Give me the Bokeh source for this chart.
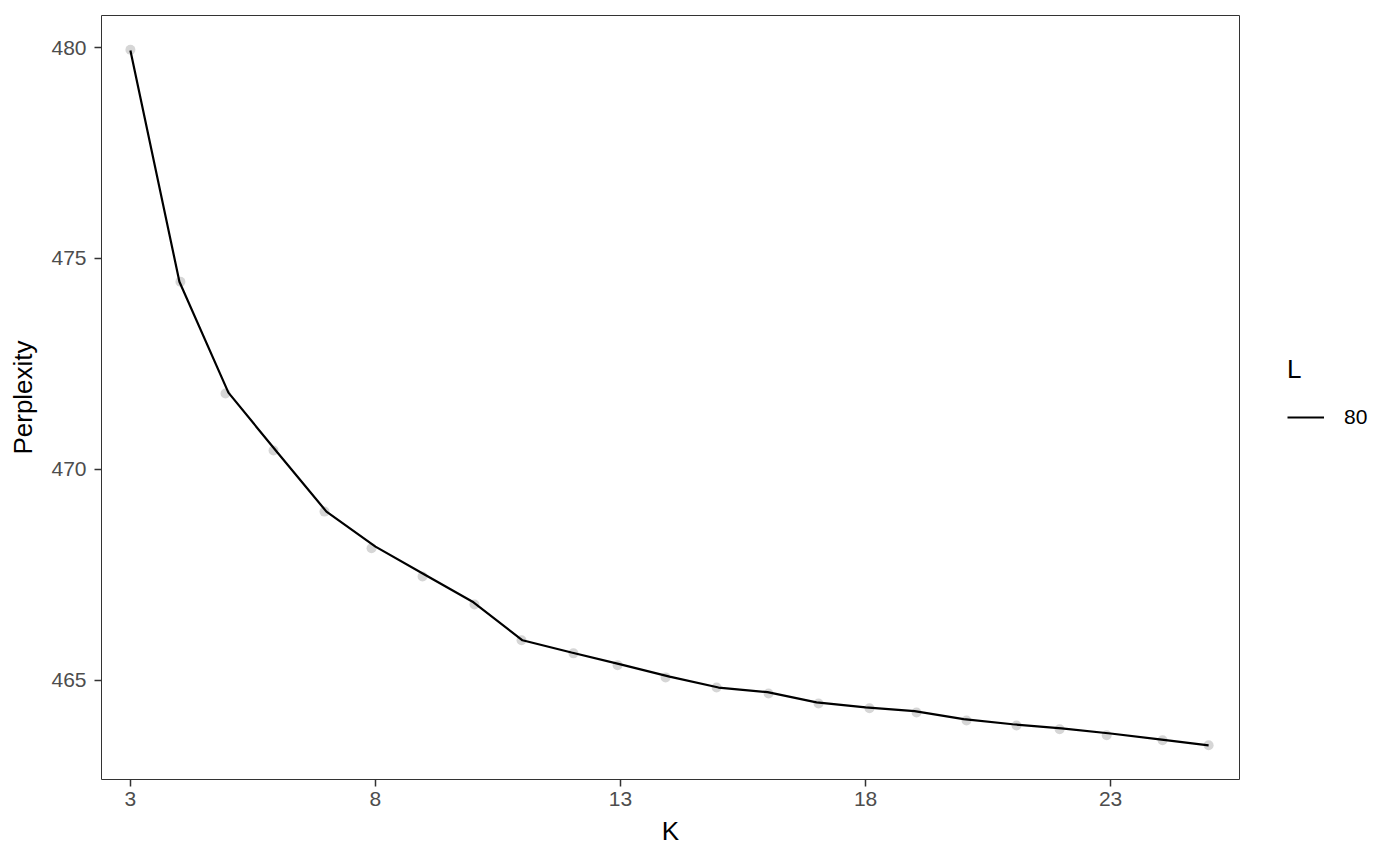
from bokeh.plotting import figure
from bokeh.models import Legend, LegendItem, Range1d, FixedTicker
from bokeh.embed import file_html
from bokeh.resources import INLINE

# Data
K = [3, 4, 5, 6, 7, 8, 9, 10, 11, 12, 13, 14, 15, 16, 17, 18, 19, 20, 21, 22, 23, 24, 25]
perplexity_line = [479.93, 474.45, 471.82, 470.40, 469.00, 468.17, 467.51, 466.85, 465.95,
                   465.66, 465.38, 465.09, 464.83, 464.72, 464.48, 464.36, 464.27, 464.08,
                   463.96, 463.86, 463.74, 463.60, 463.46]
K_jitter = [3.0, 4.02, 4.94, 5.92, 6.96, 7.92, 8.96, 10.02, 10.98, 12.04, 12.94, 13.92,
            14.96, 16.02, 17.04, 18.08, 19.04, 20.06, 21.08, 21.96, 22.92, 24.06, 25.0]
perplexity_points = [479.95, 474.45, 471.80, 470.45, 469.00, 468.13, 467.46, 466.80, 465.95,
                     465.64, 465.36, 465.07, 464.83, 464.69, 464.45, 464.34, 464.24, 464.05,
                     463.93, 463.84, 463.70, 463.58, 463.46]
x_ticks = [3, 8, 13, 18, 23]
y_ticks = [465, 470, 475, 480]
legend_title = "L"
legend_label = "80"

FONT = "Liberation Sans"
TICK_SIZE = "21px"
TITLE_SIZE = "26px"

p = figure(frame_width=1138, frame_height=764, output_backend="svg", toolbar_location=None,
           x_range=Range1d(2.41, 25.63), y_range=Range1d(462.65, 480.76),
           min_border_left=101, min_border_top=15, min_border_bottom=70, min_border_right=145)

p.scatter(K_jitter, perplexity_points, size=10, fill_color="#d6d6d6", line_color=None)
r = p.line(K, perplexity_line, line_color="black", line_width=2.2)

p.xgrid.visible = False
p.ygrid.visible = False
p.outline_line_color = "#333333"
p.outline_line_width = 1
p.background_fill_color = "white"

for ax in (p.xaxis[0], p.yaxis[0]):
    ax.axis_line_color = None
    ax.major_tick_line_color = "#333333"
    ax.major_tick_line_width = 1.5
    ax.major_tick_out = 7
    ax.major_tick_in = 0
    ax.minor_tick_line_color = None
    ax.major_label_text_font = FONT
    ax.major_label_text_font_size = TICK_SIZE
    ax.major_label_text_color = "#4d4d4d"
    ax.axis_label_text_font = FONT
    ax.axis_label_text_font_size = TITLE_SIZE
    ax.axis_label_text_font_style = "normal"
    ax.axis_label_text_color = "black"

p.xaxis.ticker = FixedTicker(ticks=x_ticks)
p.yaxis.ticker = FixedTicker(ticks=y_ticks)
p.xaxis.axis_label = "K"
p.yaxis.axis_label = "Perplexity"
p.xaxis.major_label_standoff = 5
p.yaxis.major_label_standoff = 8
p.xaxis.axis_label_standoff = 7
p.yaxis.axis_label_standoff = 10

legend = Legend(items=[LegendItem(label=legend_label, renderers=[r])],
                title=legend_title, title_text_font=FONT, title_text_font_size=TITLE_SIZE,
                title_text_font_style="normal", title_text_color="black", title_standoff=20,
                label_text_font=FONT, label_text_font_size=TICK_SIZE,
                label_text_color="black",
                glyph_width=37, glyph_height=22, label_standoff=20,
                border_line_color=None, background_fill_alpha=0,
                margin=0, padding=0, location=(48, 350))
p.add_layout(legend, "right")

open("out.html", "w").write(file_html(p, INLINE))
